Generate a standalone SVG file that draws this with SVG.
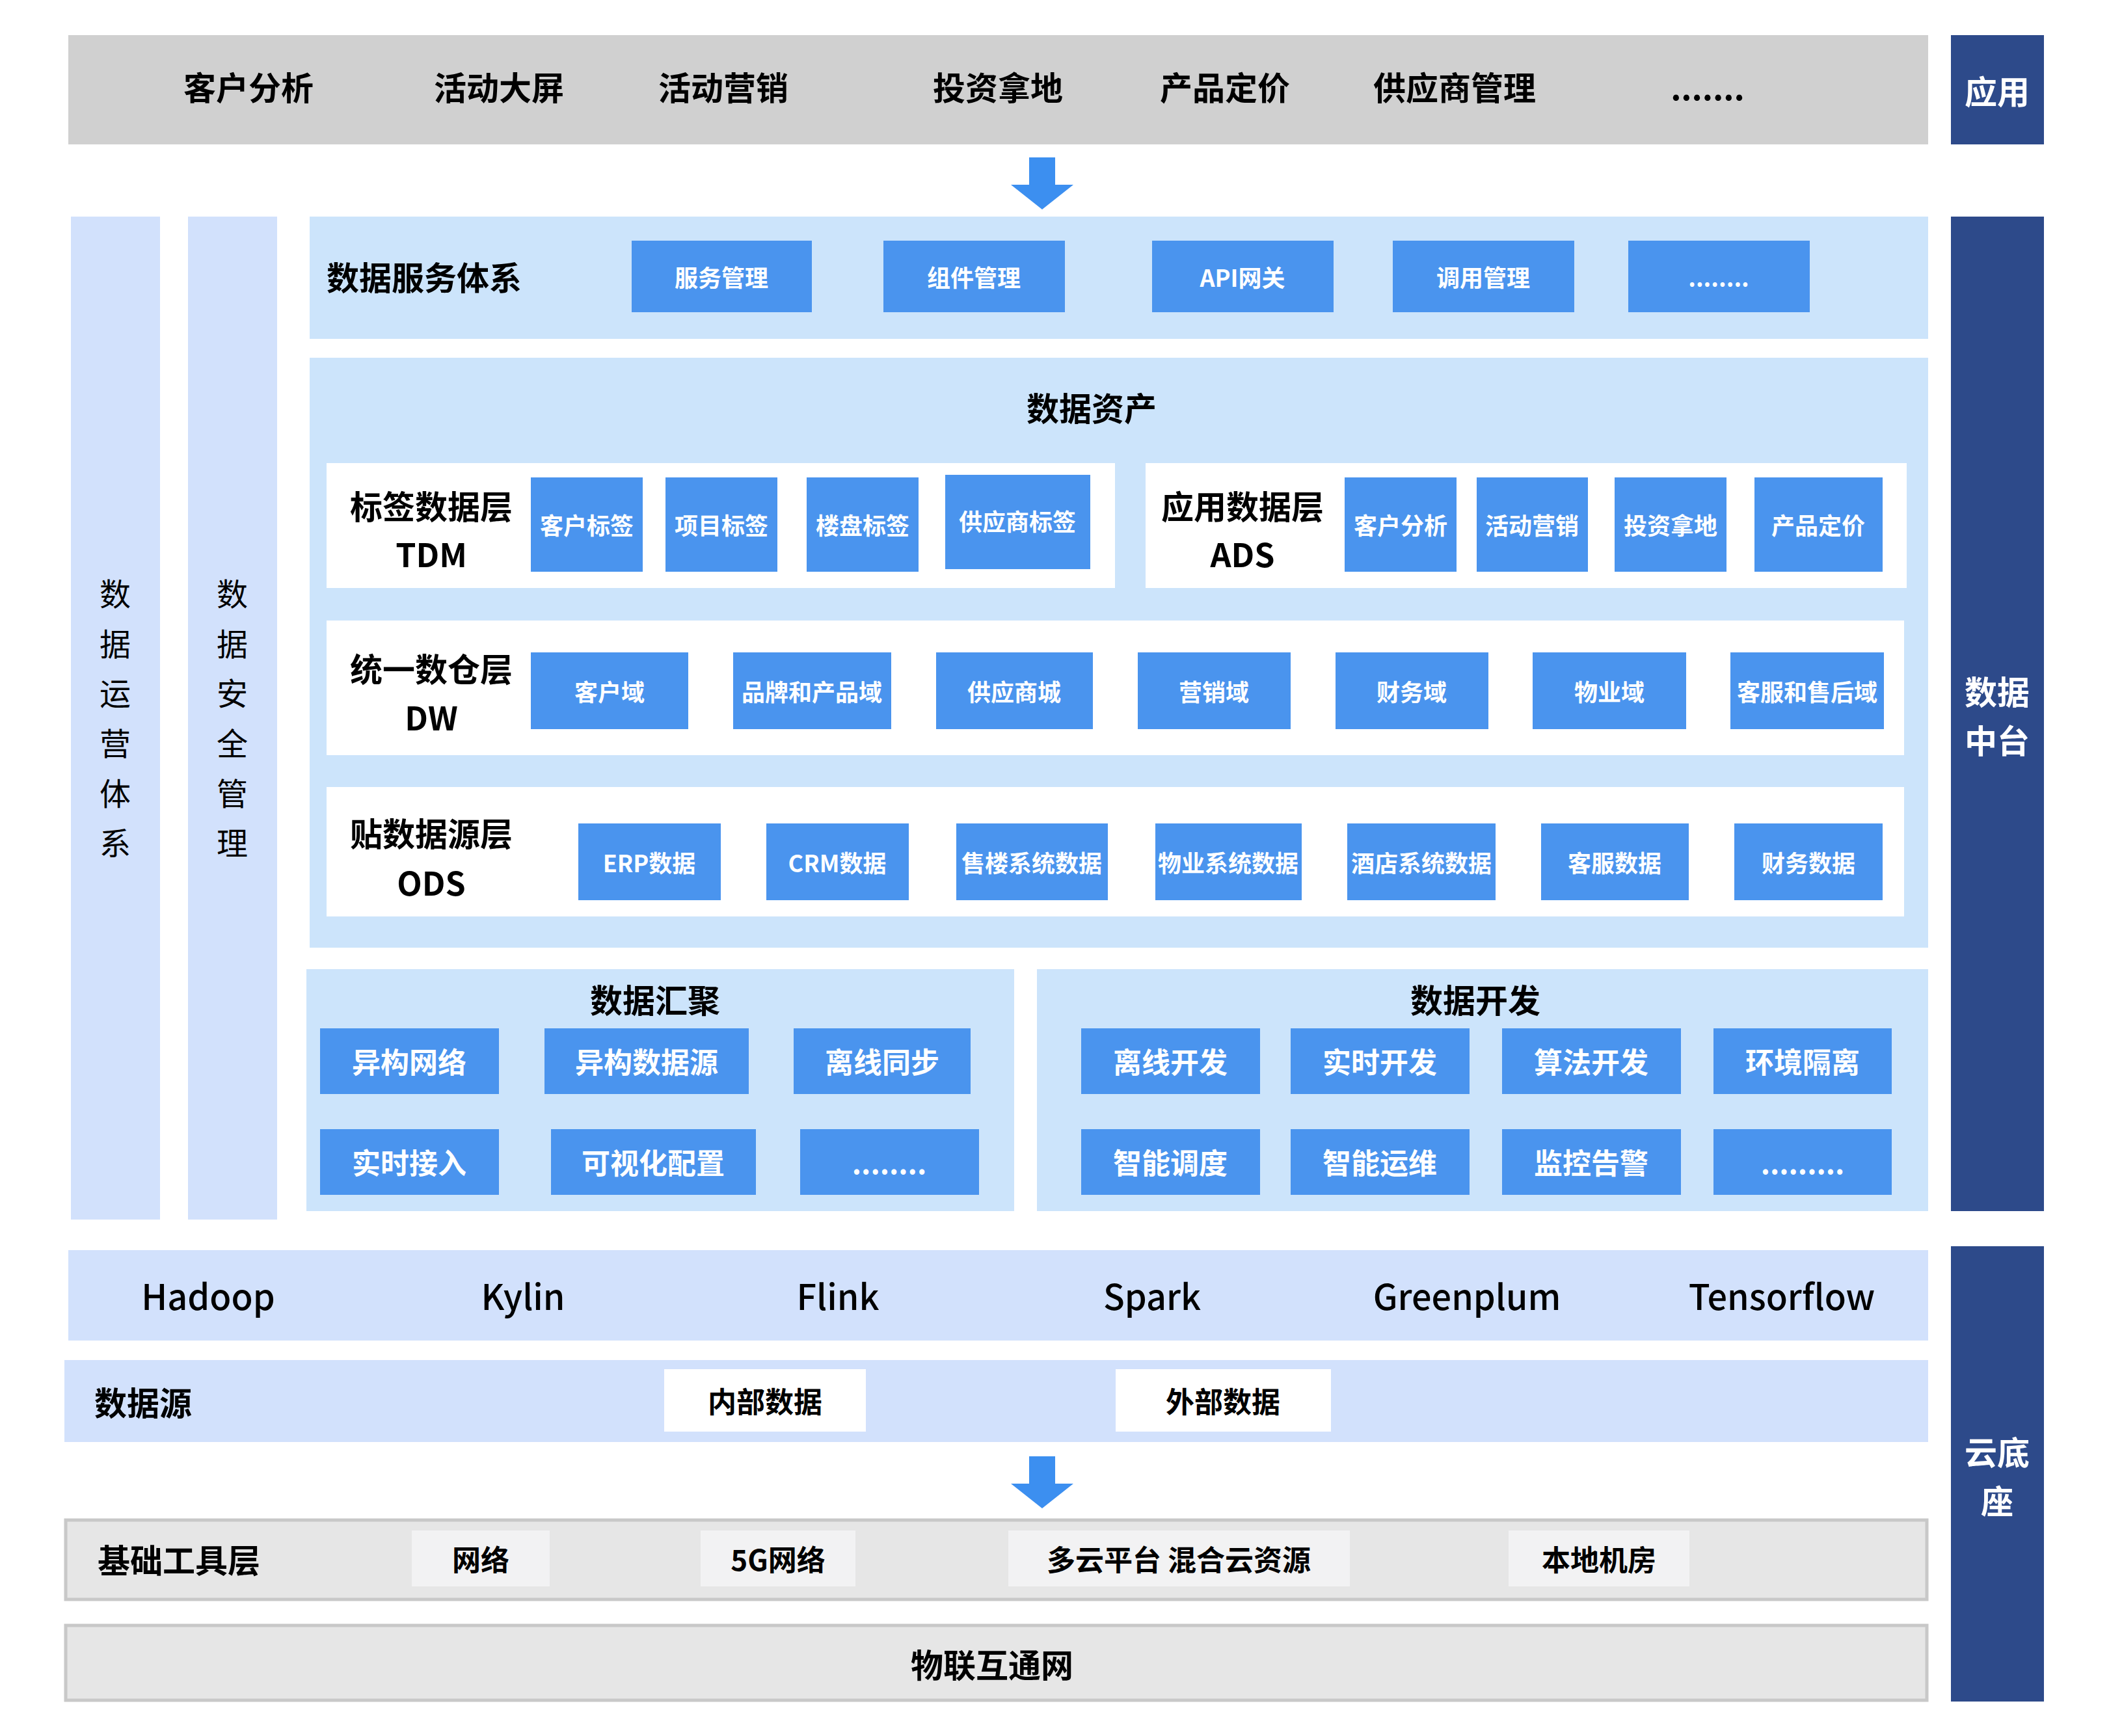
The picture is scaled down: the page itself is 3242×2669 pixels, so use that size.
<svg xmlns="http://www.w3.org/2000/svg" width="3242" height="2669" viewBox="0 0 3242 2669">
<style>
text{font-family:"Noto Sans CJK SC","Noto Sans",sans-serif;text-anchor:middle;dominant-baseline:central}
.b{font-weight:700;font-size:50px;fill:#000}
.r{font-size:48px;fill:#000}
.btn{fill:#4a94ee}
.bt{font-weight:700;font-size:36px;fill:#fff}
.bt2{font-weight:700;font-size:44px;fill:#fff}
.pl{fill:#cce4fb}
.cl{fill:#d2e1fc}
.wh{fill:#fff}
.nv{fill:#2d4a8a}
.nt{font-weight:700;font-size:50px;fill:#fff}
.tech{font-size:54px;font-weight:500;fill:#000}
.gb{fill:#e6e6e6;stroke:#c8c8c8;stroke-width:5}
.gi{fill:#f2f2f3}
.m{font-weight:700;font-size:44px;fill:#000}
</style>
<defs><path id="arr" d="M-20,0 H20 V42 H48 L0,80 L-48,42 H-20 Z" fill="#3c8ff0"/></defs>
<g id="app-bar"><rect x="105" y="54" width="2859" height="168" fill="#d0d0d0"/>
<text class="b" x="382" y="132">客户分析</text><text class="b" x="767" y="132">活动大屏</text><text class="b" x="1112" y="132">活动营销</text><text class="b" x="1534" y="132">投资拿地</text><text class="b" x="1883" y="132">产品定价</text><text class="b" x="2236" y="132">供应商管理</text><text class="b" x="2625" y="132">.......</text></g>
<g id="app-label"><rect class="nv" x="2999" y="54" width="143" height="168"/><text class="nt" x="3070" y="138">应用</text></g>
<g id="connectors"><use href="#arr" x="1602" y="242"/><use href="#arr" x="1602" y="2239"/></g>
<g id="ops"><rect class="cl" x="109" y="333" width="137" height="1542"/>
<text class="r" x="177" y="910">数</text><text class="r" x="177" y="987">据</text><text class="r" x="177" y="1063">运</text><text class="r" x="177" y="1140">营</text><text class="r" x="177" y="1217">体</text><text class="r" x="177" y="1293">系</text></g>
<g id="security"><rect class="cl" x="289" y="333" width="137" height="1542"/>
<text class="r" x="357" y="910">数</text><text class="r" x="357" y="987">据</text><text class="r" x="357" y="1063">安</text><text class="r" x="357" y="1140">全</text><text class="r" x="357" y="1217">管</text><text class="r" x="357" y="1293">理</text></g>
<g id="service"><rect class="pl" x="476" y="333" width="2488" height="188"/>
<text class="b" x="502" y="424" style="text-anchor:start">数据服务体系</text>
<rect class="btn" x="971" y="370" width="277" height="110"/><text class="bt" x="1109" y="425">服务管理</text>
<rect class="btn" x="1358" y="370" width="279" height="110"/><text class="bt" x="1497" y="425">组件管理</text>
<rect class="btn" x="1771" y="370" width="279" height="110"/><text class="bt" x="1910" y="425">API网关</text>
<rect class="btn" x="2141" y="370" width="279" height="110"/><text class="bt" x="2280" y="425">调用管理</text>
<rect class="btn" x="2503" y="370" width="279" height="110"/><text class="bt" x="2642" y="425">........</text></g>
<g id="assets"><rect class="pl" x="476" y="550" width="2488" height="907"/>
<text class="b" x="1678" y="625">数据资产</text></g>
<g id="tdm"><rect class="wh" x="502" y="712" width="1212" height="192"/>
<text class="b" x="663" y="776">标签数据层</text><text class="b" x="663" y="850">TDM</text>
<rect class="btn" x="816" y="734" width="172" height="145"/><text class="bt" x="902" y="806">客户标签</text>
<rect class="btn" x="1023" y="734" width="172" height="145"/><text class="bt" x="1109" y="806">项目标签</text>
<rect class="btn" x="1240" y="734" width="172" height="145"/><text class="bt" x="1326" y="806">楼盘标签</text>
<rect class="btn" x="1453" y="730" width="223" height="145"/><text class="bt" x="1564" y="800">供应商标签</text></g>
<g id="ads"><rect class="wh" x="1761" y="712" width="1170" height="192"/>
<text class="b" x="1910" y="776">应用数据层</text><text class="b" x="1910" y="850">ADS</text>
<rect class="btn" x="2067" y="734" width="172" height="145"/><text class="bt" x="2153" y="806">客户分析</text>
<rect class="btn" x="2270" y="734" width="171" height="145"/><text class="bt" x="2355" y="806">活动营销</text>
<rect class="btn" x="2482" y="734" width="172" height="145"/><text class="bt" x="2568" y="806">投资拿地</text>
<rect class="btn" x="2697" y="734" width="197" height="145"/><text class="bt" x="2795" y="806">产品定价</text></g>
<g id="dw"><rect class="wh" x="502" y="954" width="2425" height="207"/>
<text class="b" x="663" y="1026">统一数仓层</text><text class="b" x="663" y="1101">DW</text>
<rect class="btn" x="816" y="1003" width="242" height="118"/><text class="bt" x="937" y="1062">客户域</text>
<rect class="btn" x="1127" y="1003" width="243" height="118"/><text class="bt" x="1248" y="1062">品牌和产品域</text>
<rect class="btn" x="1439" y="1003" width="241" height="118"/><text class="bt" x="1559" y="1062">供应商城</text>
<rect class="btn" x="1749" y="1003" width="235" height="118"/><text class="bt" x="1866" y="1062">营销域</text>
<rect class="btn" x="2053" y="1003" width="235" height="118"/><text class="bt" x="2170" y="1062">财务域</text>
<rect class="btn" x="2356" y="1003" width="236" height="118"/><text class="bt" x="2474" y="1062">物业域</text>
<rect class="btn" x="2660" y="1003" width="236" height="118"/><text class="bt" x="2778" y="1062">客服和售后域</text></g>
<g id="ods"><rect class="wh" x="502" y="1210" width="2425" height="199"/>
<text class="b" x="663" y="1279">贴数据源层</text><text class="b" x="663" y="1355">ODS</text>
<rect class="btn" x="889" y="1266" width="219" height="118"/><text class="bt" x="998" y="1325">ERP数据</text>
<rect class="btn" x="1178" y="1266" width="219" height="118"/><text class="bt" x="1287" y="1325">CRM数据</text>
<rect class="btn" x="1470" y="1266" width="233" height="118"/><text class="bt" x="1586" y="1325">售楼系统数据</text>
<rect class="btn" x="1776" y="1266" width="225" height="118"/><text class="bt" x="1888" y="1325">物业系统数据</text>
<rect class="btn" x="2071" y="1266" width="228" height="118"/><text class="bt" x="2185" y="1325">酒店系统数据</text>
<rect class="btn" x="2369" y="1266" width="227" height="118"/><text class="bt" x="2482" y="1325">客服数据</text>
<rect class="btn" x="2666" y="1266" width="228" height="118"/><text class="bt" x="2780" y="1325">财务数据</text></g>
<g id="converge"><rect class="pl" x="471" y="1490" width="1088" height="372"/>
<text class="b" x="1007" y="1535">数据汇聚</text>
<rect class="btn" x="492" y="1581" width="275" height="101"/><text class="bt2" x="629" y="1631">异构网络</text>
<rect class="btn" x="837" y="1581" width="314" height="101"/><text class="bt2" x="994" y="1631">异构数据源</text>
<rect class="btn" x="1220" y="1581" width="272" height="101"/><text class="bt2" x="1356" y="1631">离线同步</text>
<rect class="btn" x="492" y="1736" width="275" height="101"/><text class="bt2" x="629" y="1786">实时接入</text>
<rect class="btn" x="847" y="1736" width="315" height="101"/><text class="bt2" x="1004" y="1786">可视化配置</text>
<rect class="btn" x="1230" y="1736" width="275" height="101"/><text class="bt2" x="1367" y="1786">........</text></g>
<g id="develop"><rect class="pl" x="1594" y="1490" width="1370" height="372"/>
<text class="b" x="2268" y="1535">数据开发</text>
<rect class="btn" x="1662" y="1581" width="275" height="101"/><text class="bt2" x="1799" y="1631">离线开发</text>
<rect class="btn" x="1984" y="1581" width="275" height="101"/><text class="bt2" x="2121" y="1631">实时开发</text>
<rect class="btn" x="2309" y="1581" width="275" height="101"/><text class="bt2" x="2446" y="1631">算法开发</text>
<rect class="btn" x="2634" y="1581" width="274" height="101"/><text class="bt2" x="2771" y="1631">环境隔离</text>
<rect class="btn" x="1662" y="1736" width="275" height="101"/><text class="bt2" x="1799" y="1786">智能调度</text>
<rect class="btn" x="1984" y="1736" width="275" height="101"/><text class="bt2" x="2121" y="1786">智能运维</text>
<rect class="btn" x="2309" y="1736" width="275" height="101"/><text class="bt2" x="2446" y="1786">监控告警</text>
<rect class="btn" x="2634" y="1736" width="274" height="101"/><text class="bt2" x="2771" y="1786">.........</text></g>
<g id="midplatform"><rect class="nv" x="2999" y="333" width="143" height="1529"/><text class="nt" x="3070" y="1061">数据</text><text class="nt" x="3070" y="1136">中台</text></g>
<g id="tech"><rect class="cl" x="105" y="1922" width="2859" height="139"/>
<text class="tech" x="320" y="1990">Hadoop</text><text class="tech" x="804" y="1990">Kylin</text><text class="tech" x="1288" y="1990">Flink</text><text class="tech" x="1771" y="1990">Spark</text><text class="tech" x="2255" y="1990">Greenplum</text><text class="tech" x="2739" y="1990">Tensorflow</text></g>
<g id="datasource"><rect class="cl" x="99" y="2091" width="2865" height="126"/>
<text class="b" x="145" y="2154" style="text-anchor:start">数据源</text>
<rect class="wh" x="1021" y="2105" width="310" height="96"/><text class="m" x="1176" y="2153">内部数据</text>
<rect class="wh" x="1715" y="2105" width="331" height="96"/><text class="m" x="1880" y="2153">外部数据</text></g>
<g id="infra"><rect class="gb" x="101" y="2337" width="2861" height="122"/>
<text class="b" x="150" y="2396" style="text-anchor:start">基础工具层</text>
<rect class="gi" x="633" y="2353" width="212" height="86"/><text class="m" x="739" y="2396">网络</text>
<rect class="gi" x="1077" y="2353" width="238" height="86"/><text class="m" x="1196" y="2396">5G网络</text>
<rect class="gi" x="1550" y="2353" width="525" height="86"/><text class="m" x="1812" y="2396">多云平台 混合云资源</text>
<rect class="gi" x="2319" y="2353" width="278" height="86"/><text class="m" x="2458" y="2396">本地机房</text></g>
<g id="iot"><rect class="gb" x="101" y="2499" width="2861" height="115"/><text class="b" x="1525" y="2557">物联互通网</text></g>
<g id="cloud"><rect class="nv" x="2999" y="1916" width="143" height="700"/><text class="nt" x="3070" y="2230">云底</text><text class="nt" x="3070" y="2305">座</text></g>
</svg>
